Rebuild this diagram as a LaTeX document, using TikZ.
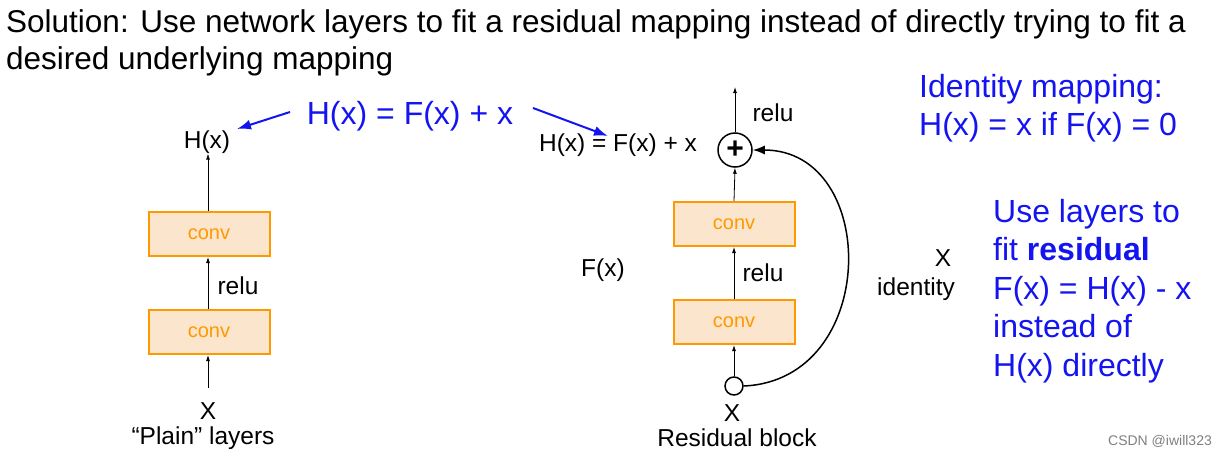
\documentclass[tikz,border=0pt]{standalone}
\usepackage{fontspec}
\setmainfont{Liberation Sans}
\usetikzlibrary{arrows.meta}
\definecolor{ob}{RGB}{255,153,0}
\definecolor{of}{RGB}{252,229,205}
\definecolor{bl}{RGB}{20,20,240}
\begin{document}
\begin{tikzpicture}[x=1pt,y=-1pt,
 conv/.style={draw=ob,line width=2pt,fill=of,minimum width=121pt,minimum height=44pt,text=ob,font=\fontsize{20}{20}\selectfont,inner sep=0pt},
 lab/.style={font=\fontsize{24.5}{26}\selectfont,inner sep=0pt},
 big/.style={font=\fontsize{32}{38}\selectfont,text=bl,inner sep=0pt,align=left},
 ar/.style={-{Latex[length=6pt,width=4pt]},line width=0.8pt},
 barr/.style={-{Latex[length=14pt,width=10pt]},draw=bl,line width=2pt}]
\useasboundingbox (0,0) rectangle (1214,455);
\node[anchor=west,font=\fontsize{31.5}{37}\selectfont,align=left,inner sep=0pt] (t) at (6,43) {Solution: Use network layers to fit a residual mapping instead of directly trying to fit a\\desired underlying mapping};
% plain
\node[lab] (hx) at (207,142) {H(x)};
\node[conv] (c1) at (209,234) {conv};
\node[conv] (c2) at (209,332) {conv};
\node[lab] (x1) at (208,411) {X};
\node[lab] (pl) at (203,438) {“Plain” layers};
\node[lab] (r1) at (238,286) {relu};
\coordinate (s1) at (208,388);
\draw[ar] (s1) -- (s1 |- c2.south);
\draw[ar] (c2.north -| s1) -- (c1.south -| s1);
\draw[ar] (c1.north -| s1) -- (s1 |- hx.south);
% blue eq
\node[big] (eq) at (410,116) {H(x) = F(x) + x};
\coordinate (e1) at (290,112); \coordinate (e1t) at (237,129);
\coordinate (e2) at (533,108); \coordinate (e2t) at (608,136);
\draw[barr] (e1) -- (e1t);
\draw[barr] (e2) -- (e2t);
% residual
\node[lab] (heq) at (618,145) {H(x) = F(x) + x};
\node[draw,circle,line width=1.5pt,minimum size=34pt,inner sep=0pt,font=\fontsize{30}{30}\selectfont\bfseries] (p) at (735,150) {+};
\coordinate (top) at (735,87);
\draw[ar] (p.north) -- (top);
\node[lab] (r2) at (773,113) {relu};
\node[conv] (c3) at (734,224) {conv};
\node[conv] (c4) at (734,322) {conv};
\node[lab] (r3) at (763,273) {relu};
\node[draw,circle,line width=1.5pt,minimum size=18pt,inner sep=0pt] (o) at (734,386) {};
\draw[ar] (c3.north) -- (p.south);
\draw[ar] (c4.north) -- (c3.south);
\draw[ar] (o.north) -- (c4.south);
\draw[-{Latex[length=12pt,width=9pt]},line width=1.5pt] (o.east) .. controls (880,380) and (880,150) .. (p.east);
\node[lab] (f) at (603,270) {F(x)};
\node[lab] (xi) at (943,258) {X};
\node[lab] (id) at (916,289) {identity};
\node[lab] (x2) at (732,413) {X};
\node[lab] (rb) at (737,438) {Residual block};
% right text
\node[big,anchor=north west] (im) at (919,74) {Identity mapping:\\H(x) = x if F(x) = 0};
\node[big,anchor=north west,font=\fontsize{32}{38.5}\selectfont] (ul) at (993,199) {Use layers to\\fit \textbf{residual}\\F(x) = H(x) - x\\instead of\\H(x) directly};
\node[text=gray,font=\fontsize{14}{14}\selectfont] (cs) at (1160,441) {CSDN @iwill323};
\end{tikzpicture}
\end{document}
